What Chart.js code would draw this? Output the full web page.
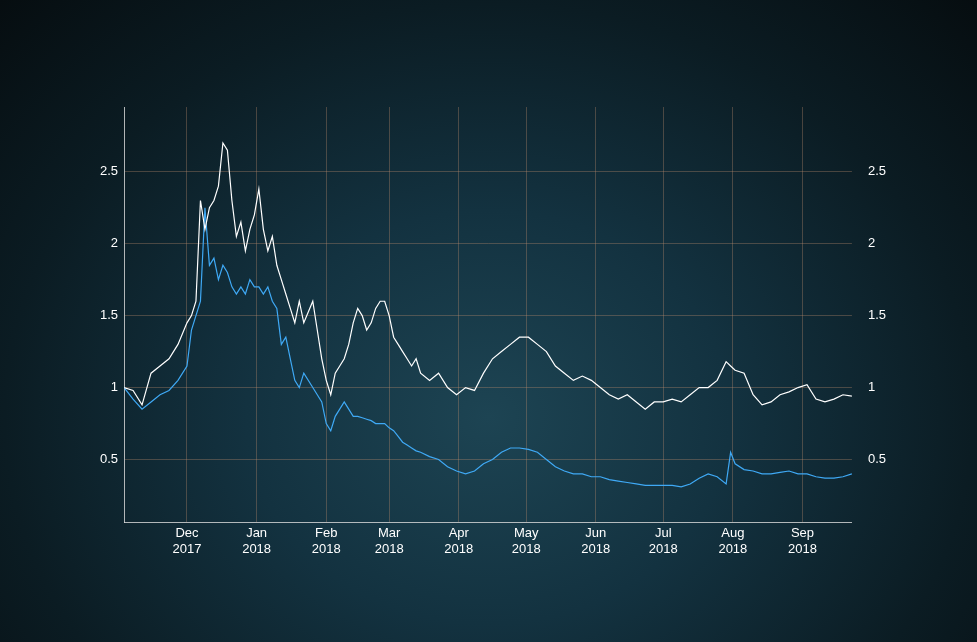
<!DOCTYPE html>
<html lang="en">
<head>
<meta charset="UTF-8">
<title>Price chart</title>
<script src="https://cdn.jsdelivr.net/npm/chart.js"></script>
<style>
  html, body { margin: 0; padding: 0; }
  body {
    width: 977px; height: 642px; overflow: hidden;
    background: radial-gradient(ellipse at 50% 65%, #1d4453 0%, #133240 35%, #0b1c23 70%, #060d10 100%);
  }
  #myChart { position: absolute; left: 0; top: 0; }
</style>
</head>
<body>
<canvas id="myChart" width="977" height="642"></canvas>
<script>
// day offsets from 3 Nov 2017
const days = [0,4,8,12,16,20,24,28,30,32,34,36,38,40,42,44,46,48,50,52,54,56,58,60,62,64,66,68,70,72,74,76,78,80,84,86,88,90,92,94,96,98,100,102,104,106,108,110,112,114,116,118,120,122,124,126,128,130,132,136,140,144,148,152,156,160,164,168,172,176,180,184,188,192,196,200,204,208,212,216,220,224,228,232,236,240,244,248,252,256,260,264,268,270,272,276,280,284,288,292,296,300,304,308,312,316,320,324];
const whiteVals = [1.0,0.98,0.88,1.1,1.15,1.2,1.3,1.45,1.5,1.6,2.3,2.1,2.25,2.3,2.4,2.7,2.65,2.3,2.05,2.15,1.95,2.1,2.2,2.38,2.1,1.95,2.05,1.85,1.75,1.65,1.55,1.45,1.6,1.45,1.6,1.4,1.2,1.05,0.95,1.1,1.15,1.2,1.3,1.45,1.55,1.5,1.4,1.45,1.55,1.6,1.6,1.5,1.35,1.3,1.25,1.2,1.15,1.2,1.1,1.05,1.1,1.0,0.95,1.0,0.98,1.1,1.2,1.25,1.3,1.35,1.35,1.3,1.25,1.15,1.1,1.05,1.08,1.05,1.0,0.95,0.92,0.95,0.9,0.85,0.9,0.9,0.92,0.9,0.95,1.0,1.0,1.05,1.18,1.15,1.12,1.1,0.95,0.88,0.9,0.95,0.97,1.0,1.02,0.92,0.9,0.92,0.95,0.94];
const blueVals = [1.0,0.92,0.85,0.9,0.95,0.98,1.05,1.15,1.4,1.5,1.6,2.25,1.85,1.9,1.75,1.85,1.8,1.7,1.65,1.7,1.65,1.75,1.7,1.7,1.65,1.7,1.6,1.55,1.3,1.35,1.2,1.05,1.0,1.1,1.0,0.95,0.9,0.75,0.7,0.8,0.85,0.9,0.85,0.8,0.8,0.79,0.78,0.77,0.75,0.75,0.75,0.72,0.7,0.66,0.62,0.6,0.58,0.56,0.55,0.52,0.5,0.45,0.42,0.4,0.42,0.47,0.5,0.55,0.58,0.58,0.57,0.55,0.5,0.45,0.42,0.4,0.4,0.38,0.38,0.36,0.35,0.34,0.33,0.32,0.32,0.32,0.32,0.31,0.33,0.37,0.4,0.38,0.33,0.55,0.47,0.43,0.42,0.4,0.4,0.41,0.42,0.4,0.4,0.38,0.37,0.37,0.38,0.4];
const monthDays = [28,59,90,118,149,179,210,240,271,302];
const monthLabels = [['Dec','2017'],['Jan','2018'],['Feb','2018'],['Mar','2018'],['Apr','2018'],['May','2018'],['Jun','2018'],['Jul','2018'],['Aug','2018'],['Sep','2018']];
const yTicks = [0.5,1,1.5,2,2.5];

const gridColor = 'rgba(190,140,110,0.35)';
const toPts = vals => vals.map((v, i) => ({ x: days[i], y: v }));
const yTickSet = axis => { axis.ticks = yTicks.map(v => ({ value: v })); };
const yFont = { family: 'Liberation Sans', size: 13 };

new Chart(document.getElementById('myChart'), {
  type: 'line',
  data: {
    datasets: [
      { data: toPts(whiteVals), borderColor: '#ffffff', borderWidth: 1.2, pointRadius: 0, tension: 0 },
      { data: toPts(blueVals), borderColor: '#3fa9f5', borderWidth: 1.2, pointRadius: 0, tension: 0 }
    ]
  },
  options: {
    responsive: false,
    animation: false,
    layout: { padding: { left: 94, right: 83, top: 107, bottom: 82 } },
    plugins: { legend: { display: false }, tooltip: { enabled: false } },
    scales: {
      x: {
        type: 'linear', min: 0, max: 324,
        afterBuildTicks: axis => { axis.ticks = monthDays.map(v => ({ value: v })); },
        ticks: {
          color: '#ffffff', font: yFont, maxRotation: 0, autoSkip: false,
          callback: (v) => monthLabels[monthDays.indexOf(v)]
        },
        grid: { color: gridColor, drawTicks: false },
        border: { color: 'rgba(220,220,220,0.8)' }
      },
      y: {
        min: 0.06, max: 2.95, position: 'left',
        afterBuildTicks: yTickSet,
        ticks: { color: '#ffffff', font: yFont, padding: 6, callback: v => String(v) },
        grid: { color: gridColor, drawTicks: false },
        border: { color: 'rgba(220,220,220,0.8)' }
      },
      y2: {
        min: 0.06, max: 2.95, position: 'right',
        afterBuildTicks: yTickSet,
        ticks: { color: '#ffffff', font: yFont, padding: 8, callback: v => String(v) },
        grid: { display: false },
        border: { display: false }
      }
    }
  }
});
</script>
</body>
</html>
